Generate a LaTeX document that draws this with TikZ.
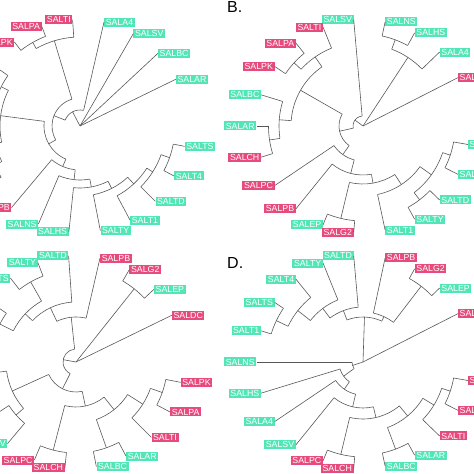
\documentclass[tikz,border=0pt]{standalone}
\usepackage{fontspec}
\setmainfont{Liberation Sans}
\definecolor{tipred}{RGB}{231,74,124}
\definecolor{tipgreen}{RGB}{82,230,182}
\newcommand{\tipr}{106.5}
% radial piece and arc piece of a circular dendrogram
\newcommand{\spoke}[3]{\draw[treeline] (#1:#2) -- (#1:#3);}
\newcommand{\carc}[3]{\draw[treeline] (#1:#3) arc[start angle=#1,end angle=#2,radius=#3];}
% leaves: name, angle, inner radius, text, style
\newcommand{\leafw}[5]{\node[#5,anchor=west] (#1) at (#2:\tipr) {#4}; \draw[treeline] (#2:#3) -- (#1.west);}
\newcommand{\leafe}[5]{\node[#5,anchor=east] (#1) at (#2:\tipr) {#4}; \draw[treeline] (#2:#3) -- (#1.east);}
% leaf whose label lies outside the frame
\newcommand{\leafx}[3]{\coordinate (#1) at (#2:\tipr); \draw[treeline] (#2:#3) -- (#1);}
\tikzset{
  treeline/.style={draw=black!65,line width=0.6pt},
  tiplab/.style={text=white,font=\fontsize{8.8}{9}\selectfont,inner xsep=1.6pt,inner ysep=0pt,minimum height=9pt},
  redlab/.style={tiplab,fill=tipred},
  greenlab/.style={tiplab,fill=tipgreen},
  panellab/.style={font=\fontsize{16}{16}\selectfont,anchor=base west,inner sep=0pt}
}

\begin{document}
\begin{tikzpicture}[x=1pt,y=1pt]
\useasboundingbox (0,0) rectangle (474,474);
\fill[white] (0,0) rectangle (474,474);
\clip (0,0) rectangle (474,474);
% ---------- panel A (top left) ----------
\begin{scope}[shift={(80,348)}]
  \leafw{a-AR}{26}{0}{SALAR}{greenlab}
  \leafw{a-BC}{43}{0}{SALBC}{greenlab}
  \leafw{a-SV}{60}{0}{SALSV}{greenlab}
  \leafw{a-A4}{77}{16}{SALA4}{greenlab}
  \leafe{a-TI}{94}{89}{SALTI}{redlab}
  \leafe{a-PA}{111}{96}{SALPA}{redlab}
  \leafe{a-PK}{128}{96}{SALPK}{redlab}
  \leafx{a-G2}{145}{88}
  \leafx{a-EP}{162}{88}
  \leafx{a-DC}{179}{86}
  \leafx{a-CH}{196}{94}
  \leafx{a-PC}{213}{94}
  \leafe{a-PB}{230}{44}{SALPB}{redlab}
  \leafe{a-NS}{247}{54}{SALNS}{greenlab}
  \leafe{a-HS}{264}{62}{SALHS}{greenlab}
  \leafw{a-TY}{281}{70}{SALTY}{greenlab}
  \leafw{a-T1}{298}{79}{SALT1}{greenlab}
  \leafw{a-TD}{315}{86}{SALTD}{greenlab}
  \leafw{a-T4}{332}{95}{SALT4}{greenlab}
  \leafw{a-TS}{349}{95}{SALTS}{greenlab}
  \carc{77}{158.4}{16}    \spoke{117.7}{0}{16}
  \carc{106.75}{209.8}{28} \spoke{158.4}{16}{28}
  \carc{94}{119.5}{89}    \spoke{106.75}{28}{89}
  \carc{111}{128}{96}     \spoke{119.5}{89}{96}
  \carc{172.6}{246.9}{36} \spoke{209.8}{28}{36}
  \carc{153.5}{191.75}{80} \spoke{172.6}{36}{80}
  \carc{145}{162}{88}     \spoke{153.5}{80}{88}
  \carc{179}{204.5}{86}   \spoke{191.75}{80}{86}
  \carc{196}{213}{94}     \spoke{204.5}{86}{94}
  \carc{230}{263.7}{44}   \spoke{246.9}{36}{44}
  \carc{247}{280.5}{54}   \spoke{263.7}{44}{54}
  \carc{264}{296.9}{62}   \spoke{280.5}{54}{62}
  \carc{281}{312.9}{70}   \spoke{296.9}{62}{70}
  \carc{298}{327.75}{79}  \spoke{312.9}{70}{79}
  \carc{315}{340.5}{86}   \spoke{327.75}{79}{86}
  \carc{332}{349}{95}     \spoke{340.5}{86}{95}
\end{scope}
% ---------- panel B (top right) ----------
\begin{scope}[shift={(363,348)}]
  \leafw{b-DC}{27}{0}{SALDC}{redlab}
  \leafw{b-A4}{44}{82}{SALA4}{greenlab}
  \leafw{b-HS}{61}{92}{SALHS}{greenlab}
  \leafw{b-NS}{78}{92}{SALNS}{greenlab}
  \leafe{b-SV}{95}{10}{SALSV}{greenlab}
  \leafe{b-TI}{112}{84}{SALTI}{redlab}
  \leafe{b-PA}{129}{93.5}{SALPA}{redlab}
  \leafe{b-PK}{146}{93.5}{SALPK}{redlab}
  \leafe{b-BC}{163}{84}{SALBC}{greenlab}
  \leafe{b-AR}{180}{94.5}{SALAR}{greenlab}
  \leafe{b-CH}{197}{94.5}{SALCH}{redlab}
  \leafe{b-PC}{214}{35}{SALPC}{redlab}
  \leafe{b-PB}{231}{49}{SALPB}{redlab}
  \leafe{b-EP}{248}{95}{SALEP}{greenlab}
  \leafe{b-G2}{265}{95}{SALG2}{redlab}
  \leafw{b-T1}{282}{70}{SALT1}{greenlab}
  \leafw{b-TY}{299}{93}{SALTY}{greenlab}
  \leafw{b-TD}{316}{93}{SALTD}{greenlab}
  \leafw{b-T4}{333}{92}{SALT4}{greenlab}
  \leafw{b-TS}{350}{92}{SALTS}{greenlab}
  \carc{61}{78}{92}       \spoke{69.5}{82}{92}
  \carc{44}{69.5}{82}     \spoke{56.75}{0}{82}
  \carc{95}{192.5}{10}    \spoke{143.75}{0}{10}
  \carc{150.25}{234.7}{24} \spoke{192.5}{10}{24}
  \carc{124.75}{175.75}{72} \spoke{150.25}{24}{72}
  \carc{112}{137.5}{84}   \spoke{124.75}{72}{84}
  \carc{129}{146}{93.5}   \spoke{137.5}{84}{93.5}
  \carc{163}{188.5}{84}   \spoke{175.75}{72}{84}
  \carc{180}{197}{94.5}   \spoke{188.5}{84}{94.5}
  \carc{214}{255.45}{35}  \spoke{234.7}{24}{35}
  \carc{231}{279.9}{49}   \spoke{255.45}{35}{49}
  \carc{256.5}{303.25}{58} \spoke{279.9}{49}{58}
  \carc{248}{265}{95}     \spoke{256.5}{58}{95}
  \carc{282}{324.5}{70}   \spoke{303.25}{58}{70}
  \carc{307.5}{341.5}{84} \spoke{324.5}{70}{84}
  \carc{299}{316}{93}     \spoke{307.5}{84}{93}
  \carc{333}{350}{92}     \spoke{341.5}{84}{92}
\end{scope}
\node[panellab] (labB) at (227,461) {B.};
% ---------- panel C (bottom left) ----------
\begin{scope}[shift={(76,112)}]
  \leafw{c-DC}{26}{0}{SALDC}{redlab}
  \leafw{c-EP}{43}{93.5}{SALEP}{greenlab}
  \leafw{c-G2}{60}{93.5}{SALG2}{redlab}
  \leafw{c-PB}{77}{45}{SALPB}{redlab}
  \leafe{c-TD}{94}{60}{SALTD}{greenlab}
  \leafe{c-TY}{111}{92}{SALTY}{greenlab}
  \leafe{c-TS}{128}{92}{SALTS}{greenlab}
  \leafx{c-T4}{145}{85}
  \leafx{c-T1}{162}{85}
  \leafx{c-NS}{179}{85}
  \leafx{c-HS}{196}{85}
  \leafx{c-A4}{213}{80}
  \leafe{c-SV}{230}{80}{SALSV}{greenlab}
  \leafe{c-PC}{247}{91}{SALPC}{redlab}
  \leafe{c-CH}{264}{91}{SALCH}{redlab}
  \leafw{c-BC}{281}{91}{SALBC}{greenlab}
  \leafw{c-AR}{298}{91}{SALAR}{greenlab}
  \leafw{c-TI}{315}{79}{SALTI}{redlab}
  \leafw{c-PA}{332}{91.5}{SALPA}{redlab}
  \leafw{c-PK}{349}{91.5}{SALPK}{redlab}
  \carc{43}{60}{93.5}     \spoke{51.5}{0}{93.5}
  \carc{96.1}{243.25}{13} \spoke{169.7}{0}{13}
  \carc{77}{115.25}{45}   \spoke{96.1}{13}{45}
  \carc{94}{136.5}{60}    \spoke{115.25}{45}{60}
  \carc{119.5}{153.5}{70} \spoke{136.5}{60}{70}
  \carc{111}{128}{92}     \spoke{119.5}{70}{92}
  \carc{145}{162}{85}     \spoke{153.5}{70}{85}
  \carc{204.5}{282}{30}   \spoke{243.25}{13}{30}
  \carc{187.5}{221.5}{70} \spoke{204.5}{30}{70}
  \carc{179}{196}{85}     \spoke{187.5}{70}{85}
  \carc{213}{230}{80}     \spoke{221.5}{70}{80}
  \carc{255.5}{308.6}{45} \spoke{282}{30}{45}
  \carc{247}{264}{91}     \spoke{255.5}{45}{91}
  \carc{289.5}{327.75}{61} \spoke{308.6}{45}{61}
  \carc{281}{298}{91}     \spoke{289.5}{61}{91}
  \carc{315}{340.5}{79}   \spoke{327.75}{61}{79}
  \carc{332}{349}{91.5}   \spoke{340.5}{79}{91.5}
\end{scope}
% ---------- panel D (bottom right) ----------
\begin{scope}[shift={(363,112)}]
  \leafw{d-DC}{27}{0}{SALDC}{redlab}
  \leafw{d-EP}{44}{95.5}{SALEP}{greenlab}
  \leafw{d-G2}{61}{95.5}{SALG2}{redlab}
  \leafw{d-PB}{78}{50}{SALPB}{redlab}
  \leafe{d-TD}{95}{55}{SALTD}{greenlab}
  \leafe{d-TY}{112}{67}{SALTY}{greenlab}
  \leafe{d-T4}{129}{83}{SALT4}{greenlab}
  \leafe{d-TS}{146}{96}{SALTS}{greenlab}
  \leafe{d-T1}{163}{96}{SALT1}{greenlab}
  \leafe{d-NS}{180}{11}{SALNS}{greenlab}
  \leafe{d-HS}{197}{24}{SALHS}{greenlab}
  \leafe{d-A4}{214}{33}{SALA4}{greenlab}
  \leafe{d-SV}{231}{46}{SALSV}{greenlab}
  \leafe{d-PC}{248}{95}{SALPC}{redlab}
  \leafe{d-CH}{265}{95}{SALCH}{redlab}
  \leafw{d-BC}{282}{93}{SALBC}{greenlab}
  \leafw{d-AR}{299}{93}{SALAR}{greenlab}
  \leafw{d-TI}{316}{83}{SALTI}{redlab}
  \leafw{d-PA}{333}{92}{SALPA}{redlab}
  \leafw{d-PK}{350}{92}{SALPK}{redlab}
  \carc{44}{61}{95.5}     \spoke{52.5}{50}{95.5}
  \carc{52.5}{78}{50}     \spoke{65.25}{45}{50}
  \carc{65.25}{110.9}{45} \spoke{88.1}{0}{45}
  \carc{95}{126.9}{55}    \spoke{110.9}{45}{55}
  \carc{112}{141.75}{67}  \spoke{126.9}{55}{67}
  \carc{129}{154.5}{83}   \spoke{141.75}{67}{83}
  \carc{146}{163}{96}     \spoke{154.5}{83}{96}
  \carc{180}{216.25}{11}  \spoke{198.1}{0}{11}
  \carc{197}{235.5}{24}   \spoke{216.25}{11}{24}
  \carc{214}{257}{33}     \spoke{235.5}{24}{33}
  \carc{231}{283.1}{46}   \spoke{257}{33}{46}
  \carc{256.5}{309.6}{57} \spoke{283.1}{46}{57}
  \carc{248}{265}{95}     \spoke{256.5}{57}{95}
  \carc{290.5}{328.75}{70} \spoke{309.6}{57}{70}
  \carc{282}{299}{93}     \spoke{290.5}{70}{93}
  \carc{316}{341.5}{83}   \spoke{328.75}{70}{83}
  \carc{333}{350}{92}     \spoke{341.5}{83}{92}
\end{scope}
\node[panellab] (labD) at (227,205) {D.};
\end{tikzpicture}
\end{document}
